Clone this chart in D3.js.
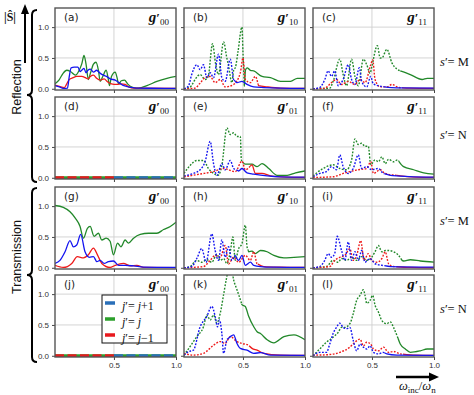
<!DOCTYPE html>
<html>
<head>
<meta charset="utf-8">
<script src="https://cdn.jsdelivr.net/npm/d3@7"></script>
<style>
  body { margin: 0; background: #fff; }
  svg { display: block; font-family: "DejaVu Sans", sans-serif; }
  .tick text { font-size: 8px; fill: #333; }
  .tick line { stroke: #444; }
</style>
</head>
<body>
<div id="fig"></div>
<script>
// panel names, g' subscripts, row labels
var panelNames = ["(a)","(b)","(c)","(d)","(e)","(f)","(g)","(h)","(i)","(j)","(k)","(l)"];
var gSubs = ["00","10","11","00","01","11","00","10","11","00","01","11"];
var rowLabels = ["M","N","M","N"];
var yTicks = [0, 0.5, 1.0];
var xTicks = [0.5, 1.0];
var legendLabels = [["j","′= ","j","+1"],["j","′= ","j",""],["j","′= ","j","−1"]];

// |S| curves, [omega, value]
var blueA = [[0.025,0.05],[0.06,0.03],[0.1,0.005],[0.125,0.01],[0.14,0.2],[0.155,0.34],[0.18,0.35],[0.21,0.35],[0.227,0.28],[0.24,0.3],[0.259,0.33],[0.275,0.26],[0.29,0.3],[0.31,0.32],[0.335,0.27],[0.36,0.3],[0.39,0.25],[0.415,0.22],[0.44,0.2],[0.47,0.16],[0.51,0.14],[0.54,0.1],[0.57,0.06],[0.6,0.04],[0.65,0.02],[0.7,0.01],[0.8,0.008],[1.0,0.005]];
var greenA = [[0.025,0.08],[0.06,0.15],[0.09,0.25],[0.12,0.3],[0.15,0.28],[0.19,0.22],[0.22,0.3],[0.24,0.4],[0.259,0.54],[0.275,0.4],[0.294,0.15],[0.31,0.25],[0.335,0.4],[0.355,0.43],[0.375,0.3],[0.389,0.12],[0.41,0.2],[0.437,0.3],[0.455,0.15],[0.464,0.05],[0.48,0.2],[0.51,0.27],[0.525,0.18],[0.537,0.08],[0.56,0.13],[0.585,0.14],[0.61,0.08],[0.64,0.03],[0.685,0.01],[0.72,0.02],[0.766,0.05],[0.846,0.12],[0.927,0.17],[1.0,0.2]];
var redA = [[0.025,0.06],[0.06,0.04],[0.1,0.02],[0.12,0.08],[0.14,0.15],[0.17,0.18],[0.2,0.2],[0.24,0.2],[0.27,0.18],[0.29,0.16],[0.31,0.2],[0.335,0.22],[0.36,0.17],[0.39,0.14],[0.42,0.16],[0.45,0.11],[0.48,0.08],[0.52,0.07],[0.56,0.08],[0.59,0.07],[0.62,0.03],[0.66,0.01],[1.0,0.005]];

var blueB = [[0.025,0],[0.06,0.04],[0.087,0.23],[0.128,0.39],[0.155,0.31],[0.182,0.39],[0.209,0.18],[0.236,0.26],[0.263,0.18],[0.303,0.56],[0.33,0.18],[0.357,0.12],[0.398,0.48],[0.425,0.15],[0.452,0.1],[0.492,0.12],[0.533,0.07],[0.587,0.03],[0.668,0.02],[0.8,0.01],[1.0,0.005]];
var greenB = [[0.025,0],[0.07,0.02],[0.1,0.1],[0.114,0.15],[0.155,0.23],[0.195,0.15],[0.22,0.2],[0.255,0.73],[0.28,0.4],[0.303,0.23],[0.344,0.76],[0.37,0.5],[0.384,0.37],[0.411,0.1],[0.425,0.3],[0.44,0.35],[0.46,0.6],[0.492,1.0],[0.5,0.6],[0.511,0.04],[0.52,0.3],[0.533,0.34],[0.56,0.3],[0.587,0.29],[0.654,0.2],[0.722,0.18],[0.803,0.12],[0.884,0.12],[0.938,0.17],[1.0,0.17]];
var redB = [[0.025,0],[0.114,0.01],[0.15,0.08],[0.195,0.18],[0.236,0.2],[0.276,0.1],[0.317,0.15],[0.357,0.03],[0.425,0.07],[0.479,0.26],[0.5,0.5],[0.519,0.15],[0.56,0.1],[0.6,0.2],[0.627,0.05],[0.695,0.03],[0.8,0.01],[1.0,0.005]];

var blueC = [[0.025,0],[0.079,0.02],[0.12,0.15],[0.147,0.29],[0.174,0.2],[0.2,0.29],[0.228,0.05],[0.268,0.15],[0.309,0.39],[0.336,0.15],[0.363,0.07],[0.398,0.34],[0.417,0.12],[0.458,0.03],[0.49,0.2],[0.51,0.08],[0.55,0.05],[0.6,0.03],[0.7,0.015],[1.0,0.01]];
var greenC = [[0.025,0],[0.16,0.01],[0.187,0.12],[0.241,0.48],[0.268,0.23],[0.295,0.05],[0.336,0.48],[0.363,0.2],[0.39,0.05],[0.431,0.48],[0.458,0.39],[0.485,0.25],[0.498,0.35],[0.544,0.7],[0.566,0.5],[0.58,0.5],[0.62,0.64],[0.661,0.42],[0.7,0.32],[0.728,0.29],[0.809,0.23],[0.904,0.15],[0.945,0.17],[1.0,0.17]];
var redC = [[0.025,0],[0.12,0.01],[0.174,0.1],[0.214,0.15],[0.255,0.07],[0.309,0.12],[0.363,0.07],[0.404,0.15],[0.444,0.1],[0.49,0.39],[0.506,0.47],[0.525,0.15],[0.566,0.03],[0.62,0.03],[0.661,0.07],[0.715,0.02],[0.8,0.01],[1.0,0.005]];

var blueE = [[0.025,0.03],[0.1,0.07],[0.155,0.13],[0.195,0.26],[0.236,0.59],[0.263,0.23],[0.29,0.04],[0.33,0.23],[0.357,0.13],[0.398,0.28],[0.425,0.15],[0.465,0.11],[0.492,0.15],[0.533,0.08],[0.587,0.06],[0.695,0.03],[0.8,0.015],[1.0,0.01]];
var greenE = [[0.025,0.07],[0.074,0.2],[0.128,0.28],[0.182,0.28],[0.222,0.15],[0.263,0.07],[0.3,0.04],[0.33,0.2],[0.371,0.81],[0.398,0.7],[0.425,0.73],[0.452,0.67],[0.479,0.67],[0.487,0.29],[0.5,0.25],[0.519,0.22],[0.573,0.22],[0.614,0.18],[0.654,0.23],[0.708,0.15],[0.776,0.04],[0.857,0.04],[0.924,0.08],[1.0,0.11]];
var redE = [[0.025,0.016],[0.155,0.06],[0.263,0.1],[0.344,0.15],[0.438,0.1],[0.492,0.27],[0.519,0.13],[0.573,0.21],[0.6,0.07],[0.654,0.07],[0.722,0.03],[0.85,0.01],[1.0,0.005]];

var blueF = [[0.025,0.016],[0.079,0.07],[0.133,0.1],[0.174,0.18],[0.214,0.13],[0.241,0.37],[0.268,0.18],[0.309,0.07],[0.349,0.15],[0.39,0.37],[0.417,0.15],[0.458,0.18],[0.498,0.13],[0.552,0.15],[0.593,0.07],[0.647,0.04],[0.8,0.02],[1.0,0.01]];
var greenF = [[0.025,0.03],[0.106,0.15],[0.187,0.21],[0.241,0.15],[0.295,0.13],[0.336,0.29],[0.363,0.63],[0.39,0.54],[0.417,0.56],[0.444,0.51],[0.471,0.51],[0.49,0.21],[0.525,0.29],[0.552,0.26],[0.58,0.34],[0.607,0.23],[0.634,0.3],[0.674,0.26],[0.707,0.29],[0.755,0.18],[0.836,0.13],[0.917,0.08],[1.0,0.06]];
var redF = [[0.025,0.005],[0.187,0.016],[0.268,0.07],[0.322,0.1],[0.39,0.13],[0.458,0.15],[0.49,0.26],[0.512,0.07],[0.566,0.13],[0.607,0.07],[0.728,0.03],[0.85,0.01],[1.0,0.005]];

var blueG = [[0.025,0.07],[0.065,0.12],[0.106,0.26],[0.146,0.44],[0.173,0.34],[0.2,0.37],[0.232,0.54],[0.267,0.26],[0.302,0.17],[0.335,0.18],[0.362,0.1],[0.389,0.12],[0.421,0.07],[0.456,0.1],[0.496,0.11],[0.537,0.04],[0.59,0.04],[0.658,0.03],[0.739,0.01],[1.0,0.005]];
var greenG = [[0.025,1.01],[0.092,0.98],[0.146,0.91],[0.187,0.81],[0.227,0.67],[0.254,0.48],[0.286,0.64],[0.308,0.67],[0.34,0.51],[0.375,0.56],[0.402,0.45],[0.437,0.48],[0.469,0.43],[0.496,0.21],[0.529,0.4],[0.556,0.34],[0.59,0.45],[0.617,0.4],[0.658,0.48],[0.712,0.54],[0.779,0.56],[0.846,0.56],[0.9,0.62],[0.954,0.67],[1.0,0.74]];
var redG = [[0.025,0.04],[0.092,0.005],[0.16,0.07],[0.205,0.18],[0.254,0.16],[0.294,0.21],[0.335,0.32],[0.367,0.21],[0.402,0.07],[0.469,0.005],[0.51,0.04],[0.577,0.07],[0.63,0.03],[0.685,0.04],[0.739,0.005],[1.0,0.002]];

var blueH = [[0.025,0],[0.087,0.02],[0.128,0.15],[0.168,0.31],[0.203,0.09],[0.249,0.55],[0.276,0.28],[0.303,0.12],[0.33,0.45],[0.357,0.17],[0.384,0.34],[0.411,0.12],[0.438,0.2],[0.465,0.12],[0.492,0.2],[0.519,0.04],[0.56,0.09],[0.587,0.04],[0.641,0.02],[0.749,0.01],[1.0,0.005]];
var greenH = [[0.025,0],[0.074,0.02],[0.128,0.12],[0.168,0.09],[0.209,0.13],[0.249,0.09],[0.29,0.22],[0.317,0.12],[0.344,0.15],[0.371,0.065],[0.398,0.26],[0.419,0.5],[0.438,0.12],[0.465,0.31],[0.492,0.39],[0.519,0.69],[0.533,0.34],[0.546,0.26],[0.573,0.27],[0.6,0.23],[0.641,0.28],[0.695,0.26],[0.749,0.2],[0.83,0.16],[0.911,0.17],[1.0,0.18]];
var redH = [[0.025,0],[0.182,0.02],[0.236,0.12],[0.276,0.2],[0.317,0.17],[0.357,0.36],[0.384,0.065],[0.425,0.17],[0.465,0.09],[0.519,0.2],[0.56,0.12],[0.587,0.26],[0.614,0.065],[0.668,0.02],[0.8,0.01],[1.0,0.005]];

var blueI = [[0.025,0],[0.079,0.02],[0.12,0.12],[0.147,0.23],[0.174,0.17],[0.2,0.23],[0.22,0.51],[0.255,0.28],[0.282,0.12],[0.309,0.42],[0.336,0.12],[0.363,0.26],[0.39,0.12],[0.417,0.28],[0.444,0.09],[0.485,0.15],[0.525,0.065],[0.58,0.04],[0.65,0.02],[1.0,0.01]];
var greenI = [[0.025,0],[0.133,0.02],[0.187,0.12],[0.228,0.09],[0.255,0.15],[0.295,0.12],[0.336,0.17],[0.377,0.12],[0.417,0.18],[0.458,0.12],[0.498,0.17],[0.525,0.26],[0.552,0.36],[0.58,0.26],[0.607,0.28],[0.634,0.28],[0.674,0.26],[0.715,0.2],[0.742,0.12],[0.755,0.11],[0.809,0.13],[0.89,0.11],[1.0,0.09]];
var redI = [[0.025,0],[0.16,0.02],[0.2,0.12],[0.241,0.17],[0.282,0.2],[0.322,0.31],[0.349,0.12],[0.377,0.2],[0.41,0.44],[0.436,0.12],[0.471,0.23],[0.498,0.12],[0.539,0.09],[0.58,0.15],[0.607,0.26],[0.634,0.065],[0.674,0.02],[0.8,0.005],[1.0,0]];

var blueK = [[0.025,0.01],[0.06,0.065],[0.1,0.09],[0.155,0.47],[0.209,0.64],[0.249,0.8],[0.276,0.64],[0.295,0.47],[0.311,0.58],[0.33,0.36],[0.344,0.04],[0.371,0.26],[0.398,0.31],[0.425,0.34],[0.452,0.2],[0.479,0.12],[0.533,0.09],[0.587,0.04],[0.641,0.05],[0.722,0.01],[1.0,0.005]];
var greenK = [[0.025,0.01],[0.074,0.15],[0.128,0.31],[0.182,0.47],[0.209,0.66],[0.236,0.58],[0.263,0.66],[0.29,0.53],[0.317,0.69],[0.344,0.99],[0.365,1.23],[0.385,1.4],[0.41,1.38],[0.425,1.23],[0.452,1.07],[0.479,0.91],[0.492,0.83],[0.519,0.8],[0.546,0.64],[0.587,0.47],[0.614,0.39],[0.641,0.36],[0.695,0.26],[0.749,0.21],[0.83,0.31],[0.911,0.34],[1.0,0.26]];
var redK = [[0.025,0.04],[0.1,0.01],[0.182,0.04],[0.263,0.17],[0.317,0.23],[0.357,0.2],[0.398,0.31],[0.452,0.23],[0.492,0.2],[0.546,0.17],[0.573,0.12],[0.614,0.09],[0.668,0.04],[0.8,0.01],[1.0,0.005]];

var blueL = [[0.025,0],[0.079,0.055],[0.133,0.055],[0.16,0.19],[0.187,0.36],[0.214,0.46],[0.241,0.53],[0.268,0.46],[0.295,0.44],[0.322,0.46],[0.349,0.25],[0.377,0.08],[0.404,0.19],[0.431,0.14],[0.458,0.11],[0.485,0.16],[0.512,0.055],[0.552,0.03],[0.593,0.055],[0.62,0.03],[0.7,0.01],[1.0,0.005]];
var greenL = [[0.025,0],[0.079,0.11],[0.133,0.22],[0.187,0.3],[0.228,0.38],[0.255,0.46],[0.282,0.46],[0.322,0.52],[0.349,0.68],[0.377,0.9],[0.404,0.98],[0.431,1.07],[0.444,0.98],[0.458,0.85],[0.485,0.9],[0.506,0.98],[0.525,0.82],[0.552,0.71],[0.58,0.57],[0.62,0.52],[0.647,0.55],[0.674,0.46],[0.701,0.33],[0.728,0.19],[0.769,0.11],[0.809,0.055],[0.89,0.08],[0.945,0.11],[1.0,0.11]];
var redL = [[0.025,0.01],[0.133,0.016],[0.241,0.055],[0.322,0.14],[0.363,0.22],[0.404,0.27],[0.431,0.16],[0.458,0.22],[0.49,0.19],[0.512,0.11],[0.552,0.08],[0.593,0.14],[0.634,0.055],[0.674,0.07],[0.728,0.03],[0.85,0.01],[1.0,0.005]];

// panels (d) and (j): all three orders are zero
var zeroGreen = [[0.025,0],[1.0,0]];
var zeroRed = [[0.025,0],[0.5,0]];
var zeroBlue = [[0.5,0],[1.0,0]];

// omega above which each curve turns from dotted to solid [blue, green, red]
var solidFrom = [[0,0,0],[0.43,0.51,0.62],[0.6,0.728,0.75],null,[0.45,0.5,0.56],[0.6,0.715,0.7],
                 [0,0,0],[0.44,0.54,0.62],[0.6,0.74,0.7],null,[0.38,0.49,0.55],[0.6,0.71,0.75]];

var curves = [[blueA,greenA,redA],[blueB,greenB,redB],[blueC,greenC,redC],null,
              [blueE,greenE,redE],[blueF,greenF,redF],[blueG,greenG,redG],[blueH,greenH,redH],
              [blueI,greenI,redI],null,[blueK,greenK,redK],[blueL,greenL,redL]];

var lineColors = ["#1414f0", "#22882a", "#ee1a1a"];
var legColors = ["#2a6fb8", "#2ca02c", "#e8191e"];

var W = 474, H = 395;
var colLeft = [55, 184, 313], rowTop = [8, 97, 187, 275];
var pw = 121, ph = 82;

var svg = d3.select("#fig").append("svg").attr("width", W).attr("height", H);

var x = d3.scaleLinear().domain([0.025, 1.0]).range([0, pw]);
var y = d3.scaleLinear().domain([-0.02, 1.31]).range([ph, 0]);

var line = d3.line().x(function(d){ return x(d[0]); }).y(function(d){ return y(d[1]); })
  .curve(d3.curveMonotoneX);

function splitAt(pts, t) {
  if (t <= pts[0][0]) return [[], pts];
  var i = d3.bisector(function(d){ return d[0]; }).right(pts, t) - 1;
  if (i >= pts.length - 1) return [pts, []];
  var a = pts[i], b = pts[i+1];
  var yt = a[1] + (b[1] - a[1]) * (t - a[0]) / (b[0] - a[0]);
  return [pts.slice(0, i+1).concat([[t, yt]]), [[t, yt]].concat(pts.slice(i+1))];
}

var defs = svg.append("defs");

panelNames.forEach(function(name, i) {
  var r = Math.floor(i / 3), c = i % 3;
  var g = svg.append("g").attr("transform", "translate(" + colLeft[c] + "," + rowTop[r] + ")");

  defs.append("clipPath").attr("id", "clip" + i)
    .append("rect").attr("width", pw).attr("height", ph);

  // grid
  g.selectAll(".gy").data([0.5, 1.0]).enter().append("line")
    .attr("x1", 0).attr("x2", pw).attr("y1", function(d){ return y(d); }).attr("y2", function(d){ return y(d); })
    .attr("stroke", "#cfcfcf").attr("stroke-width", 0.9);
  g.selectAll(".gx").data([0.5]).enter().append("line")
    .attr("y1", 0).attr("y2", ph).attr("x1", function(d){ return x(d); }).attr("x2", function(d){ return x(d); })
    .attr("stroke", "#cfcfcf").attr("stroke-width", 0.9);

  var plot = g.append("g").attr("clip-path", "url(#clip" + i + ")");

  if (curves[i]) {
    [1, 2, 0].forEach(function(k) {
      var parts = splitAt(curves[i][k], solidFrom[i][k]);
      if (parts[0].length) plot.append("path").attr("d", line(parts[0]))
        .attr("fill", "none").attr("stroke", lineColors[k]).attr("stroke-width", 1.4)
        .attr("stroke-dasharray", "1.8,1.5");
      if (parts[1].length) plot.append("path").attr("d", line(parts[1]))
        .attr("fill", "none").attr("stroke", lineColors[k]).attr("stroke-width", 1.3);
    });
  } else {
    plot.append("path").attr("d", line(zeroGreen)).attr("stroke", legColors[1]).attr("stroke-width", 3.2).attr("fill", "none");
    plot.append("path").attr("d", line(zeroRed)).attr("stroke", legColors[2]).attr("stroke-width", 3.2)
      .attr("stroke-dasharray", "9,3.5").attr("fill", "none");
    plot.append("path").attr("d", line(zeroBlue)).attr("stroke", legColors[0]).attr("stroke-width", 3.2)
      .attr("stroke-dasharray", "9,3.5").attr("fill", "none");
  }

  // axes
  var ya = d3.axisLeft(y).tickValues(yTicks).tickSize(3).tickPadding(3)
    .tickFormat(c === 0 ? d3.format(".1f") : "");
  g.append("g").call(ya).call(function(s){ s.select(".domain").remove(); });
  var xa = d3.axisBottom(x).tickValues(xTicks).tickSize(3).tickPadding(2)
    .tickFormat(r === 3 ? d3.format(".1f") : "");
  g.append("g").attr("transform", "translate(0," + ph + ")").call(xa)
    .call(function(s){ s.select(".domain").remove(); });

  // frame
  g.append("rect").attr("width", pw).attr("height", ph).attr("fill", "none")
    .attr("stroke", "#555").attr("stroke-width", 1.4);

  g.append("text").attr("x", 9).attr("y", 13).attr("font-size", 10.5).attr("fill", "#222").text(name);

  var gl = g.append("text").attr("x", pw - 7).attr("y", 14).attr("text-anchor", "end")
    .attr("font-family", "'Liberation Serif', serif").attr("fill", "#111");
  gl.append("tspan").attr("font-size", 15).attr("font-weight", "bold").attr("font-style", "italic").text("g");
  gl.append("tspan").attr("font-size", 13).attr("font-weight", "bold").text("′");
  gl.append("tspan").attr("font-size", 9).attr("dy", 3).text(gSubs[i]);
});

// legend in (j)
var leg = svg.append("g").attr("transform", "translate(" + (colLeft[0] + 47) + "," + (rowTop[3] + 20) + ")");
leg.append("rect").attr("width", 65).attr("height", 48).attr("fill", "#fff")
  .attr("stroke", "#111").attr("stroke-width", 1);
legendLabels.forEach(function(lab, k) {
  var ly = 8 + k * 16;
  leg.append("line").attr("x1", 3).attr("x2", 13).attr("y1", ly).attr("y2", ly)
    .attr("stroke", legColors[k]).attr("stroke-width", 3.5);
  var t = leg.append("text").attr("x", 20).attr("y", ly + 7)
    .attr("font-family", "'Liberation Serif', serif").attr("font-size", 12).attr("fill", "#111");
  t.append("tspan").attr("font-style", "italic").text(lab[0]);
  t.append("tspan").text(lab[1]);
  t.append("tspan").attr("font-style", "italic").text(lab[2]);
  t.append("tspan").text(lab[3]);
});

// s' labels on the right
var rowLabelY = [66, 139, 225, 313];
rowLabels.forEach(function(lab, r) {
  var t = svg.append("text").attr("x", 440).attr("y", rowLabelY[r])
    .attr("font-family", "'Liberation Serif', serif").attr("font-size", 12.5).attr("fill", "#111");
  t.append("tspan").attr("font-style", "italic").text("s");
  t.append("tspan").text("′= " + lab);
});

// left braces with Reflection / Transmission
function brace(top, bot, mid) {
  var x1 = 37, x0 = 32, xc = 27, rr = 5;
  return "M" + x1 + "," + top + " Q" + x0 + "," + top + " " + x0 + "," + (top + rr) +
    " L" + x0 + "," + (mid - rr) + " Q" + x0 + "," + mid + " " + xc + "," + mid +
    " Q" + x0 + "," + mid + " " + x0 + "," + (mid + rr) +
    " L" + x0 + "," + (bot - rr) + " Q" + x0 + "," + bot + " " + x1 + "," + bot;
}
svg.append("path").attr("d", brace(10, 182, 95)).attr("fill", "none").attr("stroke", "#000").attr("stroke-width", 2);
svg.append("path").attr("d", brace(188, 362, 275)).attr("fill", "none").attr("stroke", "#000").attr("stroke-width", 2);

svg.append("text").attr("transform", "translate(21,87) rotate(-90)").attr("text-anchor", "middle")
  .attr("font-family", "'Liberation Sans', Arial, sans-serif").attr("font-size", 12.5).attr("fill", "#111").text("Reflection");
svg.append("text").attr("transform", "translate(21,257) rotate(-90)").attr("text-anchor", "middle")
  .attr("font-family", "'Liberation Sans', Arial, sans-serif").attr("font-size", 12.5).attr("fill", "#111").text("Transmission");

// |S| arrow
svg.append("line").attr("x1", 25).attr("x2", 25).attr("y1", 63).attr("y2", 13).attr("stroke", "#000").attr("stroke-width", 2);
svg.append("path").attr("d", "M25,4 L21,14 L29,14 Z").attr("fill", "#000");
svg.append("text").attr("x", 4).attr("y", 21).attr("font-family", "'Liberation Serif', serif")
  .attr("font-size", 12).attr("font-weight", "bold").attr("fill", "#111").text("|S\u0302|");

// omega arrow
svg.append("line").attr("x1", 396).attr("x2", 430).attr("y1", 377).attr("y2", 377).attr("stroke", "#000").attr("stroke-width", 2.5);
svg.append("path").attr("d", "M439,377 L429,372.5 L429,381.5 Z").attr("fill", "#000");
var om = svg.append("text").attr("x", 399).attr("y", 390).attr("font-family", "'Liberation Serif', serif")
  .attr("font-size", 12.5).attr("fill", "#111");
om.append("tspan").attr("font-style", "italic").text("ω");
om.append("tspan").attr("font-size", 9).attr("dy", 2.5).text("inc");
om.append("tspan").attr("dy", -2.5).text("/");
om.append("tspan").attr("font-style", "italic").text("ω");
om.append("tspan").attr("font-size", 9).attr("dy", 2.5).text("n");
</script>
</body>
</html>
